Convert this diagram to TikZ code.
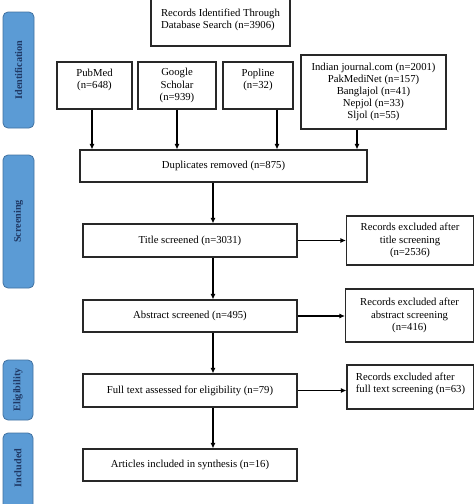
\documentclass[tikz,border=0pt]{standalone}
\usepackage{fontspec}
\setmainfont{Liberation Serif}
\usetikzlibrary{arrows.meta}

\definecolor{sidefill}{RGB}{91,155,213}
\definecolor{sideedge}{RGB}{65,113,160}
\definecolor{sidetext}{RGB}{31,56,100}
\definecolor{boxline}{RGB}{40,40,40}

\begin{document}
\begin{tikzpicture}[x=1pt, y=-1pt,
  box/.style={draw=boxline, line width=1.1pt, inner sep=2pt, align=center,
    font=\fontsize{10.7}{12.2}\selectfont},
  side/.style={draw=sideedge, line width=0.8pt, fill=sidefill, rounded corners=5pt},
  sidelabel/.style={rotate=90, text=sidetext, font=\fontsize{10.2}{12}\selectfont\bfseries},
  arr/.style={-{Latex[length=5.5pt,width=5pt]}, line width=1.2pt, draw=black}]

\useasboundingbox (0,0) rectangle (474,504);
\pgfmathsetmacro{\colx}{213}

% stage bars on the left
\draw[side] (3,12) rectangle (34,128);
\node[sidelabel] (identlab) at (18.5,70) {Identification};
\draw[side] (3,155) rectangle (34,288);
\node[sidelabel] (screenlab) at (18.5,221.5) {Screening};
\draw[side] (3,360) rectangle (33,420);
\node[sidelabel] (eliglab) at (18,390) {Eligibility};
\draw[side] (3,433) rectangle (33,512);
\node[sidelabel] (incllab) at (18,468) {Included};

% identification
\node[box, minimum width=139pt, minimum height=48pt, align=left, text depth=7pt] (records) at (220.5,22) {Records Identified Through\\Database Search (n=3906)};
\node[box, minimum width=75pt, minimum height=47pt, text depth=13pt] (pubmed) at (94.5,85.5) {PubMed\\(n=648)};
\node[box, minimum width=78pt, minimum height=47pt] (google) at (177,85.5) {Google\\Scholar\\(n=939)};
\node[box, minimum width=70pt, minimum height=47pt, text depth=13pt] (popline) at (258,85.5) {Popline\\(n=32)};
\node[box, minimum width=145pt, minimum height=74pt] (indian) at (373.5,92) {Indian journal.com (n=2001)\\PakMediNet (n=157)\\Banglajol (n=41)\\Nepjol (n=33)\\Sljol (n=55)};

% screening
\node[box, minimum width=287pt, minimum height=32pt] (dup) at (223.5,166) {Duplicates removed (n=875)};
\node[box, minimum width=214pt, minimum height=33pt] (title) at (190,240.5) {Title screened (n=3031)};
\node[box, minimum width=127pt, minimum height=49pt] (exclone) at (410,240.5) {Records excluded after\\title screening\\(n=2536)};
\node[box, minimum width=214pt, minimum height=32pt] (abstract) at (190,316) {Abstract screened (n=495)};
\node[box, minimum width=128pt, minimum height=53pt] (excltwo) at (409.5,315.5) {Records excluded after\\abstract screening\\(n=416)};

% eligibility and included
\node[box, minimum width=127pt, minimum height=44pt, align=left, text depth=8pt] (exclthree) at (410.5,387) {Records excluded after\\full text screening (n=63)};
\node[box, minimum width=214pt, minimum height=33pt] (full) at (190,390.5) {Full text assessed for eligibility (n=79)};
\node[box, minimum width=214pt, minimum height=32pt] (articles) at (190,465) {Articles included in synthesis (n=16)};

% connectors
\draw[arr] ([xshift=-2.5pt]pubmed.south) -- ([xshift=-2.5pt]pubmed.south |- dup.north);
\draw[arr] (google.south) -- (google.south |- dup.north);
\draw[arr] ([xshift=19pt]popline.south) -- ([xshift=19pt]popline.south |- dup.north);
\draw[arr] ([xshift=-16.5pt]indian.south) -- ([xshift=-16.5pt]indian.south |- dup.north);
\draw[arr] (dup.south -| \colx,0) -- (title.north -| \colx,0);
\draw[arr] (title.south -| \colx,0) -- (abstract.north -| \colx,0);
\draw[arr] (abstract.south -| \colx,0) -- (full.north -| \colx,0);
\draw[arr] (full.south -| \colx,0) -- (articles.north -| \colx,0);
\draw[arr] (title.east) -- (exclone.west |- title.east);
\draw[arr] (abstract.east) -- (excltwo.west |- abstract.east);
\draw[arr] (full.east) -- (exclthree.west |- full.east);
\end{tikzpicture}
\end{document}
